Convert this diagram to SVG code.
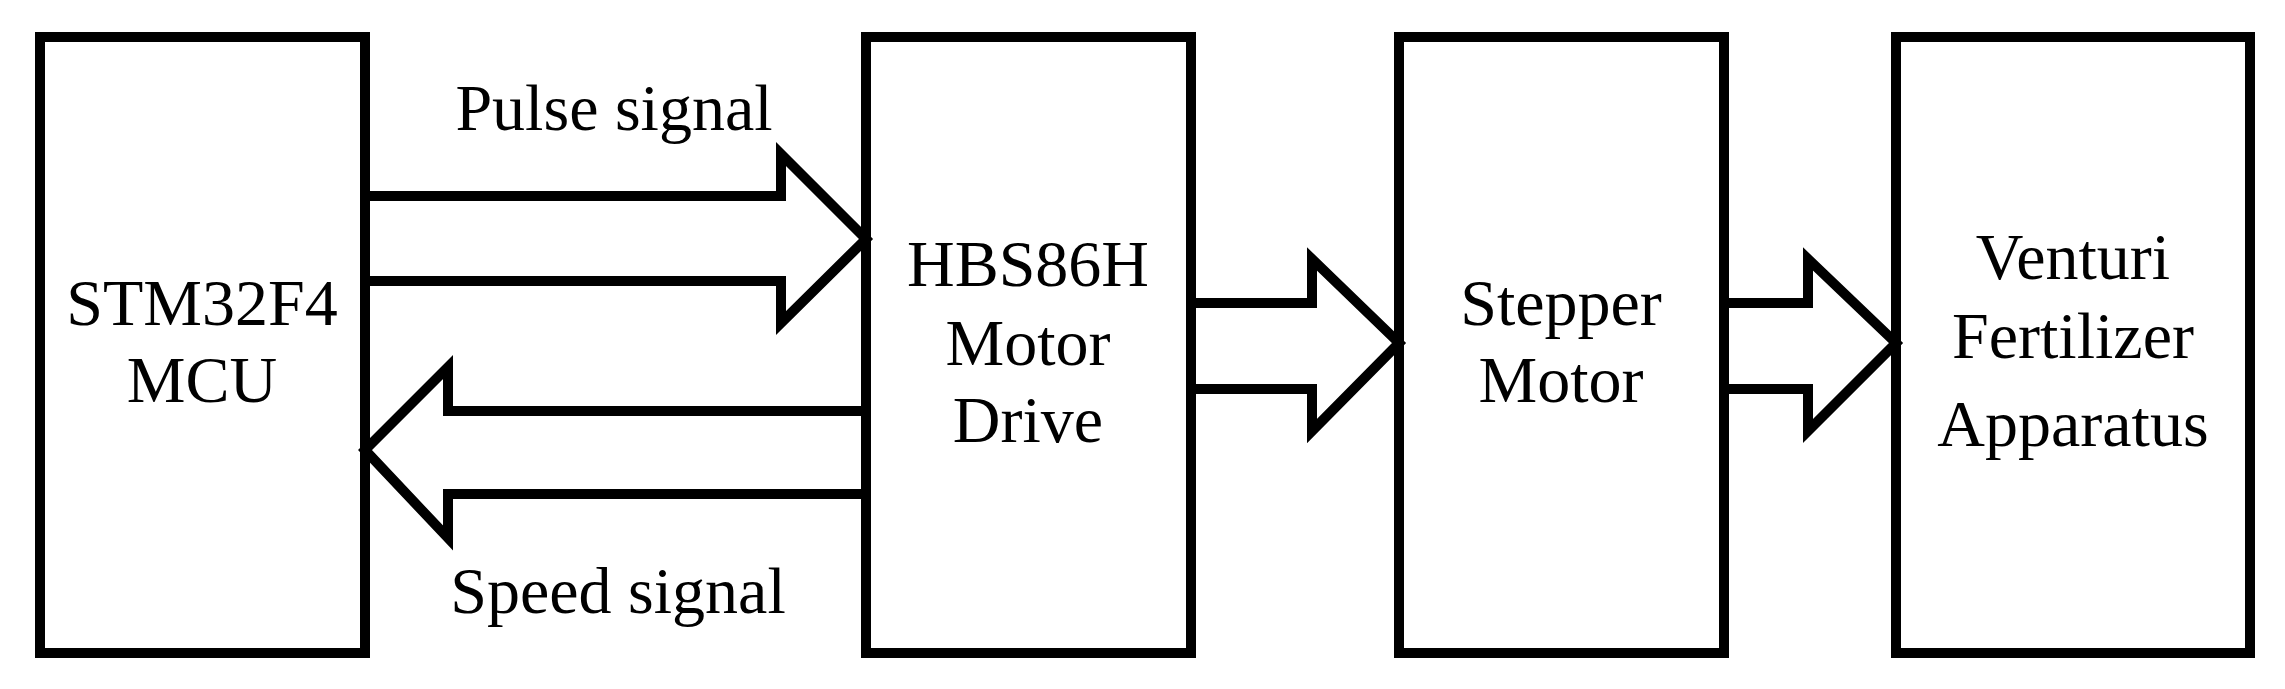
<svg xmlns="http://www.w3.org/2000/svg" width="2285" height="689" viewBox="0 0 2285 689">
<style>
.box{fill:none;stroke:#000;stroke-width:10}
.arr{fill:none;stroke:#000;stroke-width:10;stroke-linejoin:miter}
text{font-family:"Liberation Serif","Times New Roman",serif;font-size:66px;fill:#000;text-anchor:middle}
</style>
<rect width="2285" height="689" fill="#fff"/>
<g id="connectors">
<path class="arr" d="M365,196 H781 V154 L866,239 L781,323 V281 H365"/>
<path class="arr" d="M866,411 H448 V367 L365,450 L448,538 V494 H866"/>
<path class="arr" d="M1191,303 H1312 V259 L1399,343 L1312,431 V389 H1191"/>
<path class="arr" d="M1724,303 H1808 V259 L1896,343 L1808,431 V389 H1724"/>
<text x="614" y="130">Pulse signal</text>
<text x="618" y="613">Speed signal</text>
</g>
<g id="mcu"><rect class="box" x="40" y="37" width="325" height="616"/>
<text x="202" y="325">STM32F4</text><text x="202" y="402">MCU</text></g>
<g id="driver"><rect class="box" x="866" y="37" width="325" height="616"/>
<text x="1028" y="286">HBS86H</text><text x="1028" y="365">Motor</text><text x="1028" y="442">Drive</text></g>
<g id="stepper"><rect class="box" x="1399" y="37" width="325" height="616"/>
<text x="1561" y="325">Stepper</text><text x="1561" y="402">Motor</text></g>
<g id="venturi"><rect class="box" x="1896" y="37" width="354" height="616"/>
<text x="2073" y="279">Venturi</text><text x="2073" y="358">Fertilizer</text><text x="2073" y="446">Apparatus</text></g>
</svg>
